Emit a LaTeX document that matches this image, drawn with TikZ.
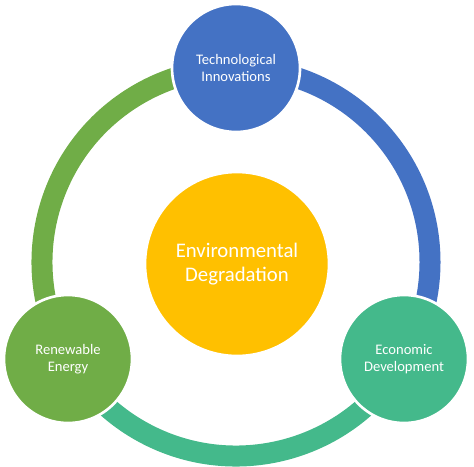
\documentclass[tikz,border=0pt]{standalone}
\usepackage{fontspec}
\setmainfont{Carlito}
\usetikzlibrary{backgrounds}
\definecolor{techblue}{HTML}{4472C4}
\definecolor{renewgreen}{HTML}{70AD47}
\definecolor{econteal}{HTML}{44B98B}
\definecolor{envyellow}{HTML}{FFC000}
\tikzset{
  bubble/.style={circle,draw=white,line width=1.5pt,text=white,minimum size=2.56cm,inner sep=0pt,align=center,font=\fontsize{8.3}{9.6}\selectfont},
  ringarc/.style={line width=0.42cm}
}
\begin{document}
\begin{tikzpicture}
\useasboundingbox (0,0) rectangle (9.48,9.32);
\coordinate (ctr) at (4.72,4.08);
\node[bubble,fill=envyellow,minimum size=3.68cm,font=\fontsize{11.8}{13.6}\selectfont] (env) at (4.74,4.04) {Environmental\\Degradation};
\path (ctr)++(90:3.88) node[bubble,fill=techblue] (tech) {Technological\\Innovations};
\path (ctr)++(210:3.88) node[bubble,fill=renewgreen] (renew) {Renewable\\Energy};
\path (ctr)++(330:3.88) node[bubble,fill=econteal] (econ) {Economic\\Development};
% ring behind the bubbles
\begin{pgfonlayer}{background}
\draw[ringarc,renewgreen] (renew.center) arc (210:90:3.88);
\draw[ringarc,techblue] (tech.center) arc (90:-30:3.88);
\draw[ringarc,econteal] (econ.center) arc (-30:-150:3.88);
\end{pgfonlayer}
\end{tikzpicture}
\end{document}
